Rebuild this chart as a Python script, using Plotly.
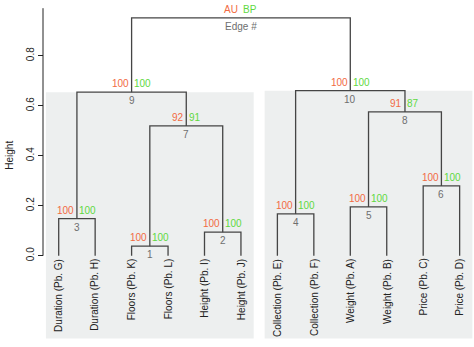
import plotly.graph_objects as go

# Leaf labels, left to right in dendrogram order
LEAVES = ["Duration (Pb. G)", "Duration (Pb. H)", "Floors (Pb. K)", "Floors (Pb. L)",
          "Height (Pb. I)", "Height (Pb. J)", "Collection (Pb. E)", "Collection (Pb. F)",
          "Weight (Pb. A)", "Weight (Pb. B)", "Price (Pb. C)", "Price (Pb. D)"]

# Merges: edge k is entry k-1; children are leaf names or earlier edge numbers.
# The last entry is the root.
MERGE_LEFT = ["Floors (Pb. K)", "Height (Pb. I)", "Duration (Pb. G)", "Collection (Pb. E)",
              "Weight (Pb. A)", "Price (Pb. C)", 1, 5, 3, 4, 9]
MERGE_RIGHT = ["Floors (Pb. L)", "Height (Pb. J)", "Duration (Pb. H)", "Collection (Pb. F)",
               "Weight (Pb. B)", "Price (Pb. D)", 2, 6, 7, 8, 10]
HEIGHTS = [0.038, 0.094, 0.148, 0.167, 0.195, 0.279, 0.519, 0.575, 0.654, 0.660, 0.951]

# Approximately unbiased / bootstrap probabilities (%) for edges 1..10
AU = [100, 100, 100, 100, 100, 100, 92, 91, 100, 100]
BP = [100, 100, 100, 100, 100, 100, 91, 87, 100, 100]

# Edges highlighted with a box
BOXED_EDGES = [9, 10]

Y_TICKS = [0.0, 0.2, 0.4, 0.6, 0.8]
Y_TICK_TEXT = ["0.0", "0.2", "0.4", "0.6", "0.8"]

FONT = "Liberation Sans, Arial, sans-serif"
LINE_COL = "#454545"
AU_COL = "#f26b43"
BP_COL = "#5fd93f"
EDGE_COL = "#6e6e6e"
BOX_COL = "#edefef"

X_RANGE = [0.3772, 12.394]
Y_RANGE = [-0.3652, 1.0228]
LEFT_MARGIN = 36
PLOT_W = 474 - LEFT_MARGIN
AXIS_POS = 7 / PLOT_W
BOX_PAD = 0.35
BOX_BOTTOM = -0.331

leaf_x = {name: i + 1 for i, name in enumerate(LEAVES)}


def pos(child):
    """x position, height and leaf span of a leaf or an edge."""
    if isinstance(child, str):
        x = leaf_x[child]
        return x, 0.0, (x, x)
    return nodes[child - 1]


nodes = []
seg_x, seg_y = [], []
for left, right, h in zip(MERGE_LEFT, MERGE_RIGHT, HEIGHTS):
    xl, hl, spl = pos(left)
    xr, hr, spr = pos(right)
    seg_x += [xl, xl, xr, xr, None]
    seg_y += [hl, h, h, hr, None]
    nodes.append(((xl + xr) / 2, h, (min(spl[0], spr[0]), max(spl[1], spr[1]))))

fig = go.Figure()
fig.add_trace(go.Scatter(x=seg_x, y=seg_y, mode="lines",
                         line=dict(color=LINE_COL, width=1.3),
                         hoverinfo="skip", showlegend=False))

shapes = []
for e in BOXED_EDGES:
    _, h, (a, b) = nodes[e - 1]
    shapes.append(dict(type="rect", xref="x", yref="y", layer="below",
                       x0=a - BOX_PAD, x1=b + BOX_PAD, y0=BOX_BOTTOM, y1=h,
                       fillcolor=BOX_COL, line=dict(width=0)))
# vertical axis line
shapes.append(dict(type="line", xref="paper", yref="y", x0=AXIS_POS, x1=AXIS_POS,
                   y0=0, y1=0.99, line=dict(color="#222222", width=1)))

ann = []
labels = [(str(a), str(b), str(i + 1)) for i, (a, b) in enumerate(zip(AU, BP))]
labels.append(("AU", "BP", "Edge #"))
for (x, h, _), (au, bp, ed) in zip(nodes, labels):
    ann.append(dict(x=x, y=h, text=au, xanchor="right", yanchor="bottom",
                    xshift=-0.5, yshift=1, showarrow=False,
                    font=dict(size=10, color=AU_COL, family=FONT)))
    ann.append(dict(x=x, y=h, text=bp, xanchor="left", yanchor="bottom",
                    xshift=0.5, yshift=1, showarrow=False,
                    font=dict(size=10, color=BP_COL, family=FONT)))
    ann.append(dict(x=x, y=h, text=ed, xanchor="center", yanchor="top",
                    yshift=-1, showarrow=False,
                    font=dict(size=10, color=EDGE_COL, family=FONT)))

for name, x in leaf_x.items():
    ann.append(dict(x=x, y=0, text=name, textangle=-90, xanchor="center",
                    yanchor="top", yshift=-1, showarrow=False,
                    font=dict(size=10, color="#222222", family=FONT)))

ann.append(dict(xref="paper", yref="y", x=(10 - LEFT_MARGIN) / PLOT_W, y=0.40,
                text="Height", textangle=-90, xanchor="center", yanchor="middle",
                showarrow=False, font=dict(size=10, color="#222222", family=FONT)))

fig.update_layout(
    width=474, height=347,
    margin=dict(l=LEFT_MARGIN, r=0, t=0, b=0),
    paper_bgcolor="white", plot_bgcolor="white",
    shapes=shapes, annotations=ann,
    xaxis=dict(range=X_RANGE, visible=False, fixedrange=True),
    yaxis=dict(range=Y_RANGE, anchor="free", position=AXIS_POS,
               showgrid=False, zeroline=False, showline=False,
               ticks="outside", ticklen=5, tickwidth=1, tickcolor="#222222",
               tickvals=Y_TICKS, ticktext=Y_TICK_TEXT, tickangle=-90,
               tickfont=dict(size=10, color="#222222", family=FONT)),
)

fig.write_html("out.html")
